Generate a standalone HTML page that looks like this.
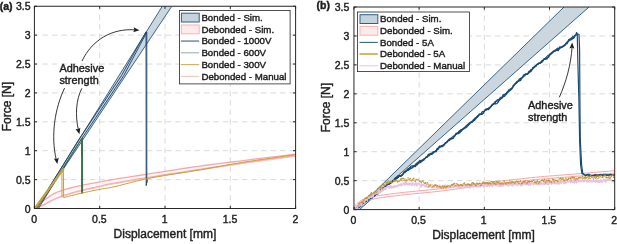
<!DOCTYPE html>
<html><head><meta charset="utf-8"><style>
html,body{margin:0;padding:0;background:#fff;overflow:hidden;}
svg{display:block;will-change:transform;}
text{font-family:"Liberation Sans",sans-serif;stroke:#1a1a1a;stroke-width:0.4px;}
</style></head><body>
<svg width="617" height="244" viewBox="0 0 617 244">
<rect x="0" y="0" width="617" height="244" fill="#fff"/>
<path d="M99.7,208.5 V6.25 M165,208.5 V6.25 M230.3,208.5 V6.25 M34.4,179.61 H295.6 M34.4,150.71 H295.6 M34.4,121.82 H295.6 M34.4,92.93 H295.6 M34.4,64.04 H295.6 M34.4,35.14 H295.6" stroke="#dadada" stroke-width="1" stroke-dasharray="5.5,4" stroke-dashoffset="1.5" fill="none"/>
<defs><clipPath id="ca"><rect x="34.4" y="6.25" width="261.2" height="202.25"/></clipPath><clipPath id="cb"><rect x="353.6" y="7.0" width="261.1" height="202.6"/></clipPath></defs>
<g clip-path="url(#ca)">
<path d="M36,208.5 L162.3,6.25 L171.8,6.25 L37,208.5 Z" fill="#cbd6df"/>
<path d="M36,208.5 L162.3,6.25 M37,208.5 L171.8,6.25" fill="none" stroke="#24587f" stroke-width="0.9"/>
<path d="M34.4,208.5 L34.68,208.25 L35.03,207.93 L35.44,207.56 L35.91,207.13 L36.44,206.66 L37.02,206.15 L37.65,205.6 L38.32,205.03 L39.03,204.42 L39.79,203.77 L40.59,203.07 L41.44,202.33 L42.36,201.57 L43.33,200.79 L44.38,199.99 L45.5,199.2 L46.68,198.37 L47.91,197.5 L49.2,196.6 L50.56,195.68 L52,194.78 L53.52,193.89 L55.14,193.05 L56.86,192.26 L58.76,191.52 L60.84,190.81 L63.05,190.12 L65.34,189.46 L67.63,188.84 L69.87,188.25 L72.01,187.69 L73.97,187.18 L75.76,186.71 L77.43,186.3 L79.01,185.93 L80.53,185.6 L82.03,185.28 L83.52,184.97 L85.05,184.66 L86.64,184.35 L88.31,184.02 L90.03,183.7 L91.78,183.38 L93.54,183.07 L95.27,182.77 L96.96,182.48 L98.57,182.19 L100.09,181.92 L101.28,181.69 L102.07,181.51 L102.67,181.37 L103.28,181.23 L104.11,181.05 L105.37,180.81 L107.27,180.47 L110.02,180.01 L113.68,179.42 L118.1,178.71 L123.11,177.92 L128.58,177.06 L134.34,176.16 L140.26,175.24 L146.17,174.32 L151.94,173.42 L157.71,172.53 L163.69,171.59 L169.82,170.63 L176.03,169.66 L182.24,168.7 L188.4,167.76 L194.43,166.87 L200.26,166.03 L205.79,165.26 L211.04,164.56 L216.12,163.91 L221.16,163.27 L226.28,162.64 L231.61,161.99 L237.26,161.29 L243.36,160.54 L250.36,159.67 L258.33,158.68 L266.83,157.64 L275.44,156.58 L283.71,155.57 L291.2,154.65 L297.49,153.88 L302.13,153.31 L302.13,154.76 L297.49,155.39 L291.2,156.25 L283.71,157.27 L275.44,158.4 L266.83,159.58 L258.33,160.75 L250.36,161.86 L243.36,162.85 L237.26,163.73 L231.61,164.56 L226.28,165.35 L221.16,166.12 L216.12,166.89 L211.04,167.67 L205.79,168.47 L200.26,169.32 L194.43,170.21 L188.4,171.14 L182.24,172.08 L176.03,173.04 L169.82,174 L163.69,174.96 L157.71,175.91 L151.94,176.83 L146.17,177.77 L140.26,178.75 L134.34,179.74 L128.58,180.71 L123.11,181.64 L118.1,182.51 L113.68,183.28 L110.02,183.94 L107.27,184.46 L105.37,184.84 L104.11,185.13 L103.28,185.36 L102.67,185.55 L102.07,185.75 L101.28,185.97 L100.09,186.25 L98.57,186.58 L96.96,186.93 L95.27,187.28 L93.54,187.64 L91.78,188.01 L90.03,188.39 L88.31,188.76 L86.64,189.14 L85.05,189.51 L83.52,189.86 L82.03,190.2 L80.53,190.56 L79.01,190.93 L77.43,191.34 L75.76,191.8 L73.97,192.32 L72.01,192.91 L69.87,193.56 L67.63,194.25 L65.34,194.99 L63.05,195.74 L60.84,196.5 L58.76,197.25 L56.86,197.98 L55.14,198.72 L53.52,199.49 L52,200.27 L50.56,201.05 L49.2,201.81 L47.91,202.54 L46.68,203.21 L45.5,203.82 L44.38,204.36 L43.33,204.85 L42.36,205.3 L41.44,205.71 L40.59,206.09 L39.79,206.43 L39.03,206.75 L38.32,207.06 L37.65,207.33 L37.02,207.58 L36.44,207.79 L35.91,207.98 L35.44,208.14 L35.03,208.28 L34.68,208.4 L34.4,208.5Z" fill="#fff7f7"/>
<path d="M34.4,208.5 L34.68,208.25 L35.03,207.93 L35.44,207.56 L35.91,207.13 L36.44,206.66 L37.02,206.15 L37.65,205.6 L38.32,205.03 L39.03,204.42 L39.79,203.77 L40.59,203.07 L41.44,202.33 L42.36,201.57 L43.33,200.79 L44.38,199.99 L45.5,199.2 L46.68,198.37 L47.91,197.5 L49.2,196.6 L50.56,195.68 L52,194.78 L53.52,193.89 L55.14,193.05 L56.86,192.26 L58.76,191.52 L60.84,190.81 L63.05,190.12 L65.34,189.46 L67.63,188.84 L69.87,188.25 L72.01,187.69 L73.97,187.18 L75.76,186.71 L77.43,186.3 L79.01,185.93 L80.53,185.6 L82.03,185.28 L83.52,184.97 L85.05,184.66 L86.64,184.35 L88.31,184.02 L90.03,183.7 L91.78,183.38 L93.54,183.07 L95.27,182.77 L96.96,182.48 L98.57,182.19 L100.09,181.92 L101.28,181.69 L102.07,181.51 L102.67,181.37 L103.28,181.23 L104.11,181.05 L105.37,180.81 L107.27,180.47 L110.02,180.01 L113.68,179.42 L118.1,178.71 L123.11,177.92 L128.58,177.06 L134.34,176.16 L140.26,175.24 L146.17,174.32 L151.94,173.42 L157.71,172.53 L163.69,171.59 L169.82,170.63 L176.03,169.66 L182.24,168.7 L188.4,167.76 L194.43,166.87 L200.26,166.03 L205.79,165.26 L211.04,164.56 L216.12,163.91 L221.16,163.27 L226.28,162.64 L231.61,161.99 L237.26,161.29 L243.36,160.54 L250.36,159.67 L258.33,158.68 L266.83,157.64 L275.44,156.58 L283.71,155.57 L291.2,154.65 L297.49,153.88 L302.13,153.31 M34.4,208.5 L34.68,208.4 L35.03,208.28 L35.44,208.14 L35.91,207.98 L36.44,207.79 L37.02,207.58 L37.65,207.33 L38.32,207.06 L39.03,206.75 L39.79,206.43 L40.59,206.09 L41.44,205.71 L42.36,205.3 L43.33,204.85 L44.38,204.36 L45.5,203.82 L46.68,203.21 L47.91,202.54 L49.2,201.81 L50.56,201.05 L52,200.27 L53.52,199.49 L55.14,198.72 L56.86,197.98 L58.76,197.25 L60.84,196.5 L63.05,195.74 L65.34,194.99 L67.63,194.25 L69.87,193.56 L72.01,192.91 L73.97,192.32 L75.76,191.8 L77.43,191.34 L79.01,190.93 L80.53,190.56 L82.03,190.2 L83.52,189.86 L85.05,189.51 L86.64,189.14 L88.31,188.76 L90.03,188.39 L91.78,188.01 L93.54,187.64 L95.27,187.28 L96.96,186.93 L98.57,186.58 L100.09,186.25 L101.28,185.97 L102.07,185.75 L102.67,185.55 L103.28,185.36 L104.11,185.13 L105.37,184.84 L107.27,184.46 L110.02,183.94 L113.68,183.28 L118.1,182.51 L123.11,181.64 L128.58,180.71 L134.34,179.74 L140.26,178.75 L146.17,177.77 L151.94,176.83 L157.71,175.91 L163.69,174.96 L169.82,174 L176.03,173.04 L182.24,172.08 L188.4,171.14 L194.43,170.21 L200.26,169.32 L205.79,168.47 L211.04,167.67 L216.12,166.89 L221.16,166.12 L226.28,165.35 L231.61,164.56 L237.26,163.73 L243.36,162.85 L250.36,161.86 L258.33,160.75 L266.83,159.58 L275.44,158.4 L283.71,157.27 L291.2,156.25 L297.49,155.39 L302.13,154.76" fill="none" stroke="#f5a8a8" stroke-width="1.3"/>
<path d="M38.32,207.66 L39.03,207.35 L39.79,207.03 L40.59,206.69 L41.44,206.31 L42.36,205.9 L43.33,205.45 L44.38,204.96 L45.5,204.42 L46.68,203.81 L47.91,203.14 L49.2,202.41 L50.56,201.65 L52,200.87 L53.52,200.09 L55.14,199.32 L56.86,198.58 L58.76,197.85 L60.84,197.1 L63.05,196.34 L65.34,195.59 L67.63,194.85 L69.87,194.16 L72.01,193.51 L73.97,192.92 L75.76,192.4 L77.43,191.94 L79.01,191.53 L80.53,191.16 L82.03,190.8 L83.52,190.46 L85.05,190.11 L86.64,189.74 L88.31,189.36 L90.03,188.99 L91.78,188.61 L93.54,188.24 L95.27,187.88 L96.96,187.53 L98.57,187.18 L100.09,186.85 L101.28,186.57 L102.07,186.35 L102.67,186.15 L103.28,185.96 L104.11,185.73 L105.37,185.44 L107.27,185.06 L110.02,184.54 L113.68,183.88 L118.1,183.11 L123.11,182.24 L128.58,181.31 L134.34,180.34 L140.26,179.35 L146.17,178.37 L151.94,177.43 L157.71,176.51 L163.69,175.56 L169.82,174.6 L176.03,173.64 L182.24,172.68 L188.4,171.74 L194.43,170.81 L200.26,169.92 L205.79,169.07 L211.04,168.27 L216.12,167.49 L221.16,166.72 L226.28,165.95 L231.61,165.16 L237.26,164.33 L243.36,163.45 L250.36,162.46 L258.33,161.35 L266.83,160.18 L275.44,159 L283.71,157.87 L291.2,156.85 L297.49,155.99 L302.13,155.36" fill="none" stroke="#f7bcbc" stroke-width="1"/>
<path d="M36.2,208.5 L78.5,140 L121.5,75.5 L146,31.8 L146.2,185.6 L147.4,179.5" fill="none" stroke="#18426a" stroke-width="0.9" stroke-linejoin="round"/>
<path d="M38.4,208.5 L80.8,140 L123.8,75.5 L146.8,32.2 L146.8,183" fill="none" stroke="#18426a" stroke-width="0.9" stroke-linejoin="round"/>
<path d="M37,208.5 L82,138" fill="none" stroke="#3f7049" stroke-width="1" stroke-linejoin="round"/>
<path d="M82.0,138.0 L82.1,193.4" fill="none" stroke="#3f7049" stroke-width="2"/>
<path d="M34.7,208.5 L63.4,169.2" fill="none" stroke="#c9a03c" stroke-width="2.2" stroke-linecap="round"/>
<path d="M63.4,169.2 L63.6,197.6 L65.38,197.09 L68.27,196.37 L71.69,195.53 L75.36,194.64 L78.99,193.77 L82.3,193 L85.36,192.32 L88.4,191.66 L91.4,191.03 L94.35,190.43 L97.22,189.85 L100,189.3 L102.42,188.86 L104.46,188.54 L106.42,188.25 L108.62,187.89 L111.37,187.37 L115,186.6 L119.53,185.51 L124.7,184.17 L130.44,182.67 L136.63,181.1 L143.18,179.55 L150,178.1 L157.43,176.72 L165.63,175.34 L174.19,173.97 L182.7,172.64 L190.78,171.38 L198,170.2 L204.4,169.11 L210.3,168.08 L215.75,167.12 L220.81,166.22 L225.55,165.38 L230,164.6 L233.73,163.94 L236.59,163.42 L239.12,162.96 L241.85,162.49 L245.3,161.93 L250,161.2 L256.69,160.21 L265.11,158.99 L274.25,157.69 L283.11,156.43 L290.69,155.36 L296,154.6" fill="none" stroke="#c9a03c" stroke-width="1" stroke-linejoin="round"/>
<path d="M61.9,170.2 L62.0,197.2" fill="none" stroke="#c9a03c" stroke-width="1"/>
</g>
<path d="M34.4,208.5 v-2.6 M34.4,6.25 v2.6 M99.7,208.5 v-2.6 M99.7,6.25 v2.6 M165,208.5 v-2.6 M165,6.25 v2.6 M230.3,208.5 v-2.6 M230.3,6.25 v2.6 M295.6,208.5 v-2.6 M295.6,6.25 v2.6 M34.4,208.5 h2.6 M295.6,208.5 h-2.6 M34.4,179.61 h2.6 M295.6,179.61 h-2.6 M34.4,150.71 h2.6 M295.6,150.71 h-2.6 M34.4,121.82 h2.6 M295.6,121.82 h-2.6 M34.4,92.93 h2.6 M295.6,92.93 h-2.6 M34.4,64.04 h2.6 M295.6,64.04 h-2.6 M34.4,35.14 h2.6 M295.6,35.14 h-2.6 M34.4,6.25 h2.6 M295.6,6.25 h-2.6" stroke="#262626" stroke-width="1" fill="none"/>
<rect x="34.4" y="6.25" width="261.2" height="202.25" fill="none" stroke="#262626" stroke-width="1"/>
<text x="34.1" y="223.2" text-anchor="middle" font-size="10.5" fill="#262626">0</text>
<text x="99.4" y="223.2" text-anchor="middle" font-size="10.5" fill="#262626">0.5</text>
<text x="164.7" y="223.2" text-anchor="middle" font-size="10.5" fill="#262626">1</text>
<text x="230" y="223.2" text-anchor="middle" font-size="10.5" fill="#262626">1.5</text>
<text x="295.3" y="223.2" text-anchor="middle" font-size="10.5" fill="#262626">2</text>
<text x="30.5" y="212.7" text-anchor="end" font-size="10.5" fill="#262626">0</text>
<text x="30.5" y="183.81" text-anchor="end" font-size="10.5" fill="#262626">0.5</text>
<text x="30.5" y="154.91" text-anchor="end" font-size="10.5" fill="#262626">1</text>
<text x="30.5" y="126.02" text-anchor="end" font-size="10.5" fill="#262626">1.5</text>
<text x="30.5" y="97.13" text-anchor="end" font-size="10.5" fill="#262626">2</text>
<text x="30.5" y="68.24" text-anchor="end" font-size="10.5" fill="#262626">2.5</text>
<text x="30.5" y="39.34" text-anchor="end" font-size="10.5" fill="#262626">3</text>
<text x="30.5" y="10.45" text-anchor="end" font-size="10.5" fill="#262626">3.5</text>
<text x="164.9" y="237.8" text-anchor="middle" font-size="12" fill="#262626">Displacement [mm]</text>
<text transform="translate(10.9,106.6) rotate(-90)" text-anchor="middle" font-size="12" fill="#262626">Force [N]</text>
<text x="59.4" y="71.7" font-size="10.9" fill="#1f1f1f">Adhesive</text>
<text x="59.4" y="84.1" font-size="10.9" fill="#1f1f1f">strength</text>
<path d="M82,61 C92,40 112,28 135.5,29.9" fill="none" stroke="#1f1f1f" stroke-width="0.9"/>
<path d="M139.4,30.3 L133.21,32.28 L134.42,29.87 L133.64,27.29Z" fill="#1f1f1f"/>
<path d="M64.6,88 C55,108 50.5,135 56.3,160" fill="none" stroke="#1f1f1f" stroke-width="0.9"/>
<path d="M57.3,164 L53.85,158.49 L56.48,159.07 L58.78,157.67Z" fill="#1f1f1f"/>
<path d="M81.8,88.3 C76,100 75,115 78.5,130.5" fill="none" stroke="#1f1f1f" stroke-width="0.9"/>
<path d="M79.4,134.2 L75.48,129.02 L78.15,129.36 L80.32,127.77Z" fill="#1f1f1f"/>
<rect x="179.5" y="10.5" width="110.6" height="73.4" fill="#fff" stroke="#262626" stroke-width="0.8"/>
<rect x="181.4" y="13.2" width="17.8" height="8.8" fill="#c6d2dc" stroke="#2f6088" stroke-width="1"/>
<text x="201.4" y="20.9" font-size="9.7" fill="#1f1f1f">Bonded - Sim.</text>
<rect x="181.4" y="24.98" width="17.8" height="8.8" fill="#fdeaea" stroke="#f6b4b4" stroke-width="1"/>
<text x="201.4" y="32.68" font-size="9.7" fill="#1f1f1f">Debonded - Sim.</text>
<path d="M180.9,41.06 H199.2" stroke="#24557d" stroke-width="1"/>
<text x="201.4" y="44.46" font-size="9.7" fill="#1f1f1f">Bonded - 1000V</text>
<path d="M180.9,52.84 H199.2" stroke="#8fb195" stroke-width="1"/>
<text x="201.4" y="56.24" font-size="9.7" fill="#1f1f1f">Bonded - 600V</text>
<path d="M180.9,64.62 H199.2" stroke="#d6a650" stroke-width="1"/>
<text x="201.4" y="68.02" font-size="9.7" fill="#1f1f1f">Bonded - 300V</text>
<path d="M180.9,76.4 H199.2" stroke="#f4c0c0" stroke-width="1"/>
<text x="201.4" y="79.8" font-size="9.7" fill="#1f1f1f">Debonded - Manual</text>
<text x="-0.3" y="10.4" font-size="10.5" font-weight="bold" fill="#1f1f1f">(a)</text>
<path d="M419.14,209.6 V7 M484.33,209.6 V7 M549.51,209.6 V7 M353.95,180.66 H614.7 M353.95,151.71 H614.7 M353.95,122.77 H614.7 M353.95,93.83 H614.7 M353.95,64.89 H614.7 M353.95,35.94 H614.7" stroke="#dadada" stroke-width="1" stroke-dasharray="5.5,4" stroke-dashoffset="1.5" fill="none"/>
<g clip-path="url(#cb)">
<path d="M356.5,209.6 L564.0,7.0 L589.0,7.0 L359.5,209.6 Z" fill="#cbd6df"/>
<path d="M356.5,209.6 L564.0,7.0 M359.5,209.6 L589.0,7.0" fill="none" stroke="#24587f" stroke-width="0.9"/>
<path d="M353.95,209.6 L354.13,209.04 L354.34,208.26 L354.6,207.33 L354.95,206.34 L355.41,205.37 L356,204.5 L356.71,203.7 L357.53,202.91 L358.45,202.14 L359.49,201.4 L360.67,200.68 L362,200 L363.35,199.37 L364.67,198.8 L366.13,198.26 L367.89,197.72 L370.09,197.18 L372.9,196.6 L376.33,195.99 L380.26,195.37 L384.63,194.74 L389.41,194.1 L394.55,193.46 L400,192.8 L405.87,192.15 L412.23,191.52 L418.94,190.88 L425.89,190.21 L432.95,189.49 L440,188.7 L447.23,187.79 L454.78,186.78 L462.44,185.72 L470,184.66 L477.26,183.67 L484,182.8 L490.25,182.05 L496.19,181.39 L501.81,180.78 L507.15,180.23 L512.21,179.7 L517,179.2 L521.22,178.74 L524.78,178.34 L528.06,177.97 L531.44,177.61 L535.3,177.23 L540,176.8 L545.74,176.31 L552.26,175.79 L559.25,175.24 L566.41,174.68 L573.43,174.13 L580,173.6 L586.53,173.05 L593.33,172.47 L600,171.9 L606.11,171.37 L611.25,170.92 L615,170.6 L615.6,173 L611.85,173.32 L606.71,173.77 L600.6,174.3 L593.93,174.87 L587.13,175.45 L580.6,176 L574.03,176.53 L567.01,177.08 L559.85,177.64 L552.86,178.19 L546.34,178.71 L540.6,179.2 L535.9,179.63 L532.04,180.01 L528.66,180.38 L525.38,180.74 L521.82,181.14 L517.6,181.6 L512.81,182.1 L507.75,182.63 L502.41,183.18 L496.79,183.79 L490.85,184.45 L484.6,185.2 L477.86,186.07 L470.6,187.06 L463.04,188.12 L455.38,189.18 L447.83,190.19 L440.6,191.1 L433.55,191.89 L426.49,192.61 L419.54,193.28 L412.83,193.92 L406.47,194.55 L400.6,195.2 L395.15,195.86 L390.01,196.5 L385.23,197.14 L380.86,197.77 L376.93,198.39 L373.5,199 L370.69,199.58 L368.49,200.12 L366.73,200.66 L365.27,201.2 L363.95,201.77 L362.6,202.4 L361.27,203.08 L360.09,203.8 L359.05,204.54 L358.13,205.31 L357.31,206.1 L356.6,206.9 L356.01,207.77 L355.55,208.74 L355.2,209.73 L354.94,210.66 L354.73,211.44 L353.95,209.6Z" fill="#fff7f7"/>
<path d="M353.95,209.6 L354.13,209.04 L354.34,208.26 L354.6,207.33 L354.95,206.34 L355.41,205.37 L356,204.5 L356.71,203.7 L357.53,202.91 L358.45,202.14 L359.49,201.4 L360.67,200.68 L362,200 L363.35,199.37 L364.67,198.8 L366.13,198.26 L367.89,197.72 L370.09,197.18 L372.9,196.6 L376.33,195.99 L380.26,195.37 L384.63,194.74 L389.41,194.1 L394.55,193.46 L400,192.8 L405.87,192.15 L412.23,191.52 L418.94,190.88 L425.89,190.21 L432.95,189.49 L440,188.7 L447.23,187.79 L454.78,186.78 L462.44,185.72 L470,184.66 L477.26,183.67 L484,182.8 L490.25,182.05 L496.19,181.39 L501.81,180.78 L507.15,180.23 L512.21,179.7 L517,179.2 L521.22,178.74 L524.78,178.34 L528.06,177.97 L531.44,177.61 L535.3,177.23 L540,176.8 L545.74,176.31 L552.26,175.79 L559.25,175.24 L566.41,174.68 L573.43,174.13 L580,173.6 L586.53,173.05 L593.33,172.47 L600,171.9 L606.11,171.37 L611.25,170.92 L615,170.6 M353.95,209.6 L354.73,211.44 L354.94,210.66 L355.2,209.73 L355.55,208.74 L356.01,207.77 L356.6,206.9 L357.31,206.1 L358.13,205.31 L359.05,204.54 L360.09,203.8 L361.27,203.08 L362.6,202.4 L363.95,201.77 L365.27,201.2 L366.73,200.66 L368.49,200.12 L370.69,199.58 L373.5,199 L376.93,198.39 L380.86,197.77 L385.23,197.14 L390.01,196.5 L395.15,195.86 L400.6,195.2 L406.47,194.55 L412.83,193.92 L419.54,193.28 L426.49,192.61 L433.55,191.89 L440.6,191.1 L447.83,190.19 L455.38,189.18 L463.04,188.12 L470.6,187.06 L477.86,186.07 L484.6,185.2 L490.85,184.45 L496.79,183.79 L502.41,183.18 L507.75,182.63 L512.81,182.1 L517.6,181.6 L521.82,181.14 L525.38,180.74 L528.66,180.38 L532.04,180.01 L535.9,179.63 L540.6,179.2 L546.34,178.71 L552.86,178.19 L559.85,177.64 L567.01,177.08 L574.03,176.53 L580.6,176 L587.13,175.45 L593.93,174.87 L600.6,174.3 L606.71,173.77 L611.85,173.32 L615.6,173" fill="none" stroke="#f5a8a8" stroke-width="1"/>
<path d="M353.99,208.87 L354.52,208.06 L354.85,208.12 L355.67,208.03 L356.06,207.9 L356.37,207.45 L357.17,208.25 L357.5,207.8 L358.12,207.73 L358.74,206.67 L359.26,207.06 L359.61,206.57 L360.08,205.48 L360.51,205.8 L361,204.29 L361.78,204.87 L362.18,204.51 L362.53,203.25 L363.16,203.03 L363.64,202.11 L364.23,202.88 L365,202.28 L365.3,201.13 L366.01,201.02 L366.42,199.82 L366.73,200.47 L367.47,200.09 L367.9,199.09 L368.4,199.45 L368.8,198.89 L369.31,199.17 L369.72,198.99 L370.62,197.94 L370.99,198.57 L371.61,198.12 L371.9,197.51 L372.69,197.85 L372.88,196.35 L373.39,195.89 L374.02,195.7 L374.68,196.07 L374.88,195.51 L375.46,194.98 L375.91,194.01 L376.39,193.78 L377.09,193.52 L377.32,193.3 L378.15,193.01 L378.61,191.57 L378.96,191.29 L379.57,191.07 L380.04,190.81 L380.52,190.53 L380.75,190.27 L381.35,190.61 L381.83,189.61 L382.42,189.74 L382.75,188.71 L383.43,188.37 L384.13,187.29 L384.54,187.16 L384.99,186.09 L385.61,186.9 L385.94,185.46 L386.71,184.65 L386.85,184.1 L387.67,184.59 L388.05,183.99 L388.4,183.7 L389.09,183.28 L389.59,182.91 L390.05,182.22 L390.65,182.25 L391.28,182.73 L391.81,181.84 L392.13,181.41 L392.75,181.46 L393.45,180.42 L393.78,180.7 L394.39,180.94 L394.93,180.21 L395.43,179.8 L395.99,179.26 L396.43,177.96 L397.02,177.5 L397.39,177.49 L398.03,177.19 L398.14,175.85 L398.75,175.74 L399.18,175.9 L399.65,175.57 L400.48,176.2 L400.79,175.25 L401.5,175.86 L401.71,174.93 L402.39,174.87 L402.75,174.6 L403.29,172.93 L404.01,172.11 L404.46,171.59 L404.94,171.25 L405.37,171.8 L405.93,170.72 L406.51,170.12 L406.85,169.89 L407.41,169.24 L408.21,168.65 L408.67,169.53 L409.17,167.83 L409.64,167.39 L410.22,167.83 L410.62,166.38 L411.29,166.03 L411.74,166.11 L412.49,165.7 L412.7,166.22 L413.49,165.95 L413.69,165.66 L414.34,166.31 L414.78,166.66 L415.54,166.61 L416.06,164.95 L416.45,164.6 L417.08,165.05 L417.53,163.78 L417.76,164.19 L418.51,163.47 L418.99,163.34 L419.46,162.26 L420,161.99 L420.64,162.53 L420.94,161.08 L421.62,161.64 L421.99,160.75 L422.43,160.05 L423.11,160.52 L423.67,159.31 L423.94,159.9 L424.62,158.68 L425.2,158.65 L425.66,157.33 L426.31,157.06 L426.53,156.67 L427.25,156.37 L427.63,155.78 L428.29,154.36 L428.97,154.7 L429.53,154.11 L429.79,153.93 L430.6,153.33 L431.13,153.71 L431.46,153.45 L432.22,152.99 L432.4,152.03 L433.2,152 L433.81,151.7 L434.12,151.78 L434.83,151.4 L435.25,151.25 L435.95,150.6 L436.53,150.39 L436.9,148.84 L437.43,148.46 L437.99,148.77 L438.43,147.23 L438.81,147.07 L439.55,146.03 L440.09,145.9 L440.36,146.71 L441.01,146.66 L441.5,145.66 L441.88,146.17 L442.53,146.64 L443.06,146.29 L443.35,145.59 L443.89,145.13 L444.33,144.55 L444.89,143.15 L445.51,143.25 L445.98,142.88 L446.43,142.79 L446.76,141.56 L447.09,141.49 L447.8,140.88 L448.44,139.86 L448.61,140.14 L449.32,139.36 L449.52,138.8 L450.32,138.73 L450.67,138.46 L451.24,138.72 L451.76,139.06 L452.28,138.26 L452.58,138.58 L453.29,138.35 L453.55,137.64 L454.32,135.84 L454.59,135.83 L455,135.37 L455.52,134.52 L456,133.4 L456.44,133.51 L457.12,133.03 L457.58,133.22 L458.04,133.33 L458.33,133.02 L458.75,133.64 L459.36,132.5 L460.02,132.76 L460.15,132.27 L460.85,131.23 L461.31,131.29 L461.76,130.23 L462.36,129.34 L462.74,129.47 L463.35,128.68 L463.8,127.99 L464.4,127.36 L464.84,127.61 L465.17,127.42 L465.81,126.33 L466.27,126 L466.89,125.75 L467.19,125.08 L467.57,124.52 L468.1,124.63 L468.87,123.6 L469.06,123.62 L469.55,123.07 L470.3,122.45 L470.76,122.59 L471.01,121.85 L471.7,121.3 L472.03,121.6 L472.77,121.11 L473.19,119.9 L473.54,119.79 L474.27,119.27 L474.71,118.26 L475.09,118.95 L475.69,118.07 L475.94,118.14 L476.39,117.73 L477.16,116.91 L477.55,115.64 L477.96,115.87 L478.58,115.04 L479.12,114.17 L479.41,114 L479.92,114.92 L480.6,114.06 L480.92,114.05 L481.56,114.46 L481.89,114.13 L482.64,113.77 L483.07,113.46 L483.49,112.65 L483.94,111.39 L484.5,110.8 L484.93,110.01 L485.67,109.86 L485.88,108.98 L486.39,109.95 L486.94,109.55 L487.4,109.43 L487.99,109.41 L488.52,108.67 L488.97,108.57 L489.74,108.16 L490.15,106.98 L490.86,106.97 L491.11,106 L491.91,105.32 L492.55,105.05 L492.82,104.82 L493.42,103.75 L494.24,103.38 L494.57,104.02 L495.03,103.51 L495.76,103.87 L496.25,103.82 L496.81,103.55 L497.31,103.25 L497.69,102.4 L498.2,102.32 L498.77,101.11 L499.28,100.49 L499.58,100.19 L500.05,99.23 L500.49,99.4 L501.22,98.35 L501.63,97.96 L502.04,97.76 L502.48,97.91 L502.96,97 L503.58,96.15 L503.93,96.51 L504.62,96.44 L504.88,95.48 L505.4,95.13 L506.04,93.91 L506.27,94.59 L506.7,93.67 L507.32,92.66 L507.73,91.74 L507.98,91.46 L508.41,91.05 L508.71,91.43 L509.2,90.7 L509.77,90.72 L510.32,90.04 L510.47,89.88 L510.87,89.74 L511.38,88.39 L511.76,88.12 L512.41,88.16 L512.81,87.26 L513.03,85.91 L513.48,85.32 L514.12,85.46 L514.23,84.9 L515.04,83.76 L515.42,83.86 L515.7,83.32 L516.49,83.41 L516.94,81.98 L517.34,82.16 L517.87,81.3 L518.19,80.86 L518.75,81.41 L518.9,80.58 L519.4,80.79 L520.05,79.69 L520.7,80.55 L521.02,79.5 L521.51,78.88 L522.05,77.87 L522.71,76.69 L523.03,76.73 L523.5,75.09 L524.27,74.69 L524.57,74.56 L525.01,74.44 L525.61,74.07 L526.09,73.97 L526.39,74.11 L526.94,74.1 L527.44,74.42 L528.06,73.51 L528.59,73.39 L528.88,72.88 L529.53,72.35 L530,72.07 L530.55,71.16 L530.92,71.73 L531.34,71.1 L531.64,70.23 L532.19,69.6 L532.74,68.66 L533.15,67.7 L533.88,67.78 L534.27,66.64 L534.62,67.42 L535.08,66.39 L535.77,65.92 L536.21,66.14 L536.79,64.7 L537.15,64.55 L537.75,64.52 L538.08,64.18 L538.65,62.88 L539.09,63.03 L539.56,63.07 L540.38,63.06 L540.73,62.56 L541.18,61.76 L541.84,60.6 L542.13,60.6 L542.61,60.26 L542.99,60.2 L543.85,59.18 L544.03,59.01 L544.77,58.7 L545.25,58.56 L545.66,59.3 L546.17,58.32 L546.77,59.2 L547.06,58.86 L547.69,57.32 L548.19,57.53 L548.8,55.66 L549.27,55.09 L550.01,55.04 L550.52,54.15 L551.3,53.6 L551.75,52.87 L552.26,52.25 L552.67,51.85 L553.24,51.31 L554.02,51 L554.63,50.46 L554.9,50.42 L555.58,50.07 L556.37,49.39 L556.6,48.82 L557.23,48.42 L557.6,48.17 L558.35,48.39 L558.88,48.26 L559.38,47.51 L559.81,47 L560.36,47.9 L560.73,47.41 L561.32,47.56 L561.97,47.13 L562.67,46.83 L562.96,45.96 L563.69,46.52 L564.04,45.4 L564.93,45.54 L565.31,44.69 L566.15,43.67 L566.41,43.87 L567.19,43.58 L567.53,42.67 L568.24,41.37 L568.47,40.71 L569.21,40.09 L569.67,40.75 L570.08,39.89 L570.76,39.92 L571.31,38.81 L572,38.74 L572.23,38.38 L572.83,38.21 L573.55,37.15 L574.22,36.08 L574.91,35.45 L575.45,35.7 L575.85,35.1 L576.41,34.95 L576.65,34.96 L576.74,33.63 L577.03,33.8 L579,34.5 L579.6,50 L579.9,100 L580.3,140 L581.6,165 L582.8,173.6 L585.5,175.4 L585.36,176.04 L586.59,174.94 L587.12,174.77 L588.1,175.36 L588.94,175.89 L589.84,176.16 L590.95,175.74 L591.82,175.71 L592.33,175.72 L593.41,175.95 L594.12,175.23 L595.13,175.72 L596.07,176 L596.84,176.13 L597.72,175.79 L598.72,175.05 L599.5,174.86 L600.31,175.68 L601.24,174.82 L601.84,175.24 L602.84,174.52 L603.85,174.23 L604.55,174.78 L605.47,174.83 L606.18,175.55 L607.16,175.03 L608.03,174.73 L608.83,174.97 L609.73,175.22 L610.78,174.48 L611.42,174.58 L612.51,174.68 L613.23,175.47 L613.95,174.96 L614.87,175.47" fill="none" stroke="#1b4a72" stroke-width="1.2" stroke-linejoin="round"/>
<path d="M354.07,210.88 L354.66,210.69 L355.16,209.96 L355.7,209.91 L355.96,209.87 L356.48,208.43 L356.87,208.46 L357.43,208.77 L358.23,207.4 L358.4,207.46 L358.93,207.09 L359.7,206.3 L360.05,206.83 L360.58,205.67 L361.29,205.92 L361.82,205.14 L362.15,204.39 L362.85,203.49 L363.14,202.22 L363.73,202.23 L364.32,201.45 L364.93,200.54 L365.37,200.68 L365.85,201.28 L366.23,201.37 L366.67,200.71 L367.37,200.04 L367.89,200.04 L368.35,199.99 L368.68,199.09 L369.51,198.3 L370.07,197.92 L370.51,197.44 L370.94,197.38 L371.31,197.41 L371.98,197.05 L372.53,196.55 L373.04,195.88 L373.71,195.27 L374.19,196.04 L374.54,195.57 L375.1,194.92 L375.44,194.01 L375.96,193.42 L376.7,192.9 L376.97,192.46 L377.63,192.06 L378.02,191.37 L378.4,190.79 L378.87,190.69 L379.61,190.7 L379.8,190.31 L380.29,190.12 L380.91,190.18 L381.33,189.82 L381.81,189.71 L382.46,188.15 L383.04,188.23 L383.37,187.79 L384.08,187.41 L384.55,187.48 L385.04,186.92 L385.31,187.32 L386.06,185.77 L386.7,186.29 L386.9,184.54 L387.59,184.25 L388.16,184.3 L388.67,184.09 L389.22,184.14 L389.67,183.54 L390.09,182.63 L390.51,183.34 L391.08,182.39 L391.65,182.23 L392.25,182.05 L392.73,180.75 L393.33,180.65 L393.95,179.43 L394.45,179.81 L395.01,178.17 L395.28,178.68 L395.98,177.28 L396.32,177.87 L396.96,177.27 L397.23,176.74 L397.66,176.25 L398.31,176.6 L398.86,175.79 L399.22,175.54 L399.88,175.69 L400.18,176.18 L400.83,176.27 L401.33,175.54 L401.8,175.13 L402.51,175.19 L402.91,173.9 L403.19,173.93 L403.83,172.75 L404.21,171.78 L404.86,172.68 L405.52,171.94 L406.01,170.99 L406.33,171.12 L406.81,170.77 L407.51,170.38 L407.87,169.36 L408.53,169.11 L409.15,169 L409.68,169.33 L410.22,168.76 L410.61,168.24 L411.46,167.84 L411.73,167.82 L412.35,167.87 L412.76,167.65 L413.17,166.88 L413.9,166.47 L414.24,165.63 L415.07,165.11 L415.25,165.07 L416.1,163.55 L416.55,163.05 L416.76,163.55 L417.52,163.26 L417.99,162.14 L418.38,161.77 L419.19,161.5 L419.68,160.66 L420.15,161.35 L420.41,161.5 L420.99,160.69 L421.44,161.27 L421.97,161.5 L422.41,160.92 L423.21,160.17 L423.63,160.04 L424.16,158.66 L424.72,158.51 L425.16,158.28 L425.82,157.74 L426.32,156.9 L426.64,157.37 L427.28,157.25 L427.65,156.87 L428.41,155.6 L428.68,155.85 L429.55,155.51 L429.87,154.97 L430.56,154.59 L430.98,154.29 L431.68,154.17 L432.18,153.02 L432.64,153.39 L433.24,153.19 L433.87,151.74 L434.26,151.82 L434.7,151.82 L435.56,151.97 L435.76,150.97 L436.39,151.53 L436.93,150.06 L437.48,149.58 L437.79,149.37 L438.68,148.91 L439.1,147.37 L439.54,147.49 L440.13,146.82 L440.34,147.21 L440.91,146.74 L441.48,146.65 L441.92,145.53 L442.44,145.88 L443.08,145.49 L443.51,145.06 L444.03,144.3 L444.58,144.82 L444.71,144.11 L445.49,143.31 L445.7,142.85 L446.44,142.28 L447,142.39 L447.34,142.06 L447.62,140.92 L448.26,140.98 L448.9,140.86 L449.25,140.53 L449.87,139.84 L450.29,139.74 L450.65,139.02 L451.05,138.21 L451.62,138.27 L452.01,138.17 L452.62,138.41 L453.29,137.63 L453.81,136.59 L454.01,136.49 L454.56,136.43 L455.11,135.73 L455.51,134.11 L456.13,134.52 L456.46,134.43 L457.22,133.63 L457.7,133.54 L457.84,132.68 L458.55,132.18 L458.86,131.47 L459.43,131.51 L459.69,130.54 L460.27,130.9 L460.66,129.71 L461.16,129.59 L461.78,130.4 L462.24,129 L462.87,128.94 L463.32,129.19 L463.77,128.88 L464.33,128.77 L464.89,128.56 L465.38,127.38 L465.78,127.69 L466.38,127.21 L466.9,126.88 L467.28,126.15 L467.57,125.45 L468.33,125.6 L468.87,124.49 L469.11,124.71 L469.77,123.3 L470.01,123.8 L470.72,122.24 L471.37,122.43 L471.77,122.27 L472.05,121.44 L472.51,121.17 L473.1,121.08 L473.46,119.95 L474.06,119.37 L474.56,120.41 L475.23,118.99 L475.71,118.67 L475.96,118.78 L476.47,117.6 L476.88,116.93 L477.41,117.3 L477.84,116.15 L478.4,115.87 L478.81,114.95 L479.59,114.06 L479.96,114.07 L480.49,114.08 L480.83,114.01 L481.4,113.46 L481.85,112.1 L482.38,111.69 L482.9,111.4 L483.33,112.06 L484.01,111.23 L484.5,111.34 L484.82,109.92 L485.57,109.49 L486,110.02 L486.64,108.92 L486.97,109.21 L487.54,108.7 L488.11,109.83 L488.53,109.16 L489.19,109.01 L489.73,107.95 L489.99,107.69 L490.84,106.79 L491.18,106.41 L491.85,104.79 L492.48,104.11 L492.82,104.61 L493.31,104.11 L494.01,103.22 L494.69,103.21 L495.01,101.63 L495.64,101.39 L496.12,100.82 L496.5,101.06 L497,100.23 L497.64,99.56 L498.32,100.27 L498.52,99.71 L499.09,99.18 L499.55,98.79 L500.36,97.69 L500.52,97.38 L501.26,97.56 L501.44,97.3 L502.13,96.95 L502.69,95.42 L503.09,94.78 L503.37,95.1 L503.88,94.3 L504.43,94.31 L505.15,94.14 L505.5,93.96 L505.78,93.68 L506.44,93.31 L506.74,92.61 L507.02,92.22 L507.68,92.65 L508.2,91.51 L508.58,91.9 L509.08,91.24 L509.26,91.13 L509.56,90.37 L510.16,90.51 L510.65,89.25 L510.9,88.69 L511.56,89.35 L511.83,88.11 L512.32,87.49 L512.73,87.03 L513.06,86.81 L513.45,85.62 L514,85.87 L514.25,84.48 L514.78,84.01 L515.34,84.25 L515.69,83.65 L516.27,82.98 L516.78,82.56 L517.12,82.1 L517.67,81.9 L518.21,80.91 L518.82,80.11 L518.89,79.55 L519.62,79.02 L520.09,78.53 L520.44,78.79 L520.85,78.04 L521.77,77.98 L522.05,77.77 L522.64,77.16 L523.05,76.13 L523.69,76.22 L524.19,74.93 L524.58,74.79 L525,74.24 L525.69,74.1 L526.02,73.78 L526.64,74.44 L526.87,74.62 L527.72,73.95 L528.12,73.44 L528.29,72.34 L528.85,71.47 L529.48,71.74 L529.85,71.47 L530.27,70.37 L530.7,69.89 L531.47,69.77 L531.9,69.77 L532.35,68.51 L532.95,67.57 L533.21,68.19 L533.81,67.01 L534.35,67.16 L534.79,66.02 L535.27,66.08 L535.83,65.39 L536.36,65.21 L536.56,64.56 L537.05,64.21 L537.61,64.49 L538.11,64.08 L538.81,63.47 L539.21,63.24 L539.63,63.41 L540.26,63.26 L540.54,63.06 L541.19,62.47 L541.66,62.52 L542.24,61.79 L542.68,61 L543.14,60.97 L543.64,59.72 L544.05,59.33 L544.48,59.41 L545.09,59.24 L545.5,58.62 L546.08,58.38 L546.49,58.33 L547.18,57.35 L547.46,57.32 L548.39,56.88 L548.76,56.59 L549.47,55.61 L550.11,53.83 L550.42,54.33 L551.07,54.06 L551.51,53.78 L552.3,52.77 L552.95,52.7 L553.37,51.95 L554.07,51.6 L554.43,51.16 L554.87,51.1 L555.44,51.07 L556.11,50.24 L556.69,50.44 L557.12,50.6 L557.69,49.65 L558.46,50.57 L558.67,49.71 L559.3,48.64 L559.77,48.14 L560.15,47.87 L560.65,46.98 L561.61,47.24 L561.93,47.14 L562.44,46.65 L562.94,46.5 L563.5,46.28 L564.02,45.29 L564.76,45.45 L565.54,44.14 L565.93,43.63 L566.32,42.87 L566.86,42.28 L567.51,42.27 L568.11,41.29 L568.51,40.02 L569.06,39.44 L569.46,39.23 L570.37,38.82 L570.75,39.07 L571.41,38.8 L571.84,39.68 L572.35,38.6 L573.02,37.98 L573.54,38.43 L574.41,37.32 L574.95,35.84 L575.57,34.79 L575.98,34.4 L576.29,33.52 L576.45,32.58 L576.98,32.9 L576.95,33.78 L577.3,35.2 L577.8,60 L578.9,100 L579.6,140 L580.6,165 L581.9,173.4 L585.5,175.2 L585.64,175.5 L586.59,174.84 L587.34,174.62 L588.27,174.39 L589.13,174.38 L590.02,175.18 L590.93,175.05 L591.49,175.76 L592.69,175.34 L593.35,175.49 L594.42,174.93 L595.2,174.41 L595.82,175.28 L596.74,174.86 L597.62,175 L598.7,175.53 L599.55,174.9 L600.09,174.33 L601.23,174.95 L602.16,175.37 L602.73,175.57 L603.85,175.46 L604.54,174.51 L605.26,174.25 L606.33,174.6 L606.98,175.41 L608.19,175.03 L608.87,175.25 L609.77,174.58 L610.64,174.37 L611.41,174.83 L612.3,175.18 L613.36,174.84 L613.99,174.4 L614.97,174.7" fill="none" stroke="#1b4a72" stroke-width="1.2" stroke-linejoin="round"/>
<path d="M353.82,209.43 L354.51,209.09 L354.96,208.58 L355.5,208.69 L356.09,208.6 L356.48,209.23 L356.88,208.7 L357.51,208.45 L358.14,207.74 L358.6,206.89 L358.87,207.22 L359.48,205.93 L360.2,206.22 L360.42,205.73 L361,205.82 L361.57,205.38 L362.23,203.53 L362.68,204.09 L363.32,202.28 L363.71,201.87 L364.13,201.88 L364.88,201.07 L365.33,201.83 L365.98,200.82 L366.16,201.84 L366.77,200.72 L367.47,200.68 L367.95,200.95 L368.29,200.22 L368.8,200.25 L369.31,199.02 L370.06,198.54 L370.41,198.41 L370.76,197.68 L371.57,198.24 L371.93,197.01 L372.33,196.4 L372.97,195.74 L373.47,194.83 L374.21,194.92 L374.48,193.5 L374.85,193.29 L375.38,193.91 L376.03,193.35 L376.67,194.22 L377.09,194.57 L377.43,194.47 L378.19,194.16 L378.31,193.58 L379.17,191.9 L379.61,192.18 L379.77,191.31 L380.55,190.74 L380.76,190.54 L381.25,188.93 L382.09,189.14 L382.27,188.67 L382.96,188.13 L383.59,188.34 L383.9,187.53 L384.3,188.01 L384.89,187.57 L385.5,186.66 L385.87,186.27 L386.35,185.87 L387.07,186.2 L387.43,184.79 L388.18,184.33 L388.47,184.44 L389.08,184.83 L389.46,184.34 L390.14,182.99 L390.57,183.73 L391.07,182.69 L391.54,182.35 L392.32,182.18 L392.69,181.15 L393.4,181.15 L393.76,179.38 L394.47,179.23 L394.81,178.36 L395.14,178.13 L395.86,178.13 L396.48,177.84 L396.92,177.57 L397.29,178.73 L397.74,177.63 L398.15,178.07 L398.82,176.85 L399.34,176.56 L399.97,176.47 L400.13,175.88 L400.62,176.33 L401.15,175.58 L401.86,174.64 L402.39,174.92 L403.02,174.83 L403.55,173.71 L403.87,173.04 L404.24,172.78 L405.1,172.23 L405.56,171.56 L405.89,171.5 L406.65,171.18 L407.09,170.64 L407.61,170.84 L408.22,169.9 L408.45,170.76 L409.07,169.49 L409.78,169.25 L410.33,168.95 L410.55,167.86 L411.42,168.55 L411.69,168.24 L412.47,167.26 L412.95,166.95 L413.17,166.36 L413.8,166.95 L414.29,166.41 L414.95,165.32 L415.38,165.6 L416,164.9 L416.61,164.97 L416.73,164.43 L417.47,163.83 L417.83,162.97 L418.55,161.91 L418.94,161.79 L419.72,161.58 L420.11,161.28 L420.72,160.86 L421.2,159.81 L421.76,160.82 L422.14,159.96 L422.78,159.6 L423.26,159.25 L423.63,159.47 L424.27,158.72 L424.62,158.36 L425.11,157.76 L425.55,157.28 L426.07,157.77 L426.67,157.18 L427.23,156.79 L427.8,155.31 L428.26,154.67 L428.76,154.21 L429.27,153.95 L429.71,154.53 L430.56,153.63 L431.11,153.27 L431.55,154.08 L432.19,154.58 L432.64,154.14 L433.23,152.7 L433.55,152.24 L434.36,152.19 L434.76,151.65 L435.55,151.07 L436.06,150.39 L436.5,150.55 L436.82,150.29 L437.34,148.68 L438.16,148.15 L438.46,148.49 L438.88,147.48 L439.6,146.15 L439.87,147.01 L440.65,146.3 L441.06,145.87 L441.66,145.09 L441.89,145.33 L442.53,146.07 L442.86,144.63 L443.34,145.3 L443.98,143.9 L444.51,143.82 L444.72,143.24 L445.52,143.68 L445.81,143.01 L446.51,141.68 L446.69,141.6 L447.22,141.58 L447.96,140.49 L448.16,140.45 L448.81,139.47 L449.23,139.7 L449.81,138.92 L450.12,138.83 L450.64,138.24 L451.3,138.57 L451.88,137.04 L452.2,137.15 L452.7,136.26 L453.1,136.16 L453.55,135.97 L454.33,135.95 L454.53,135.13 L455.08,135.7 L455.42,134.38 L456.22,134.42 L456.43,134.24 L456.85,133.96 L457.66,132.48 L457.99,133.11 L458.37,131.67 L459.08,130.77 L459.21,131.2 L460,130.88 L460.42,130.47 L461,130.19 L461.34,129.83 L461.73,130.24 L462.13,130.12 L462.7,129.76 L463.15,129.12 L463.79,128.16 L464.4,128.35 L464.74,127.72 L465.25,127.6 L465.59,126.19 L466.3,125.75 L466.92,126.37 L467.16,124.79 L467.9,124.03 L468.24,123.52 L468.93,123.44 L469.29,122.84 L469.86,123.2 L470,122.19 L470.61,122.5 L470.98,122.89 L471.47,122.66 L472.25,122.04 L472.56,122.41 L473.24,121.66 L473.46,120.17 L474.06,119.67 L474.7,119.45 L475.12,117.6 L475.39,117.56 L476.24,116.72 L476.75,116.28 L476.86,116.58 L477.36,116.06 L478.22,116.6 L478.63,115.82 L478.95,115.04 L479.5,114.68 L480.05,114.33 L480.5,114.53 L480.85,114.11 L481.48,114.22 L481.95,114.73 L482.41,113.53 L482.95,113.76 L483.69,112.81 L483.8,111.78 L484.68,110.7 L485.11,110.71 L485.52,110.61 L485.91,110.26 L486.42,109.77 L487.08,109.07 L487.48,108.2 L487.94,108.9 L488.52,107.52 L489.09,107.64 L489.76,107.76 L490.3,106.35 L490.71,106.48 L491.22,106.64 L491.98,105.23 L492.48,105.22 L492.89,104.24 L493.49,104.6 L494.13,103.45 L494.53,103.51 L495.03,103.53 L495.62,101.91 L496.17,101.68 L496.76,101.62 L497.34,100.9 L497.77,101.25 L498.14,101.07 L498.84,100.85 L499.26,99.4 L499.86,98.95 L500.28,98.72 L500.61,98.35 L501.16,98.71 L501.71,97.13 L502.18,97.68 L502.45,97.54 L502.91,97.03 L503.67,96.36 L503.93,95.42 L504.4,95.03 L504.84,95.17 L505.42,93.79 L505.79,93.89 L506.16,93.69 L506.9,92.45 L507.06,92.74 L507.58,92.11 L508.12,91.05 L508.5,89.7 L508.76,90.19 L509.27,89.29 L509.93,89.07 L510.18,89.3 L510.74,88.87 L510.96,88.94 L511.32,88.83 L511.98,88.77 L512.22,88.07 L512.71,87 L513.23,86.62 L513.4,85.59 L514.03,84.88 L514.43,84.25 L514.78,83.76 L515.47,83.56 L515.67,83.14 L516.18,81.75 L516.95,81.24 L517.43,81.13 L517.56,81.32 L518.23,80.62 L518.48,80.78 L519.22,79.94 L519.51,80.31 L520.17,79.08 L520.49,78.98 L521.11,79.16 L521.68,77.7 L521.93,77.15 L522.46,76.97 L523.06,77.33 L523.62,77.08 L524.21,75.89 L524.69,75.62 L525.21,76.12 L525.43,75.29 L525.94,74.66 L526.44,74.42 L526.98,74.29 L527.54,73.69 L527.92,73.28 L528.32,72.69 L529.09,71.25 L529.44,70.91 L529.79,71.37 L530.23,70.88 L530.85,69.57 L531.24,69.83 L531.68,69.55 L532.47,69.61 L532.61,67.9 L533.2,68.59 L533.9,67.71 L534.16,67.03 L534.82,67.05 L535.15,66.41 L535.69,66.2 L536.33,65.9 L536.79,64.89 L537.3,63.98 L537.8,63.55 L538.32,64.15 L538.54,64.03 L539.14,63.43 L539.54,63.05 L540.17,62.83 L540.65,61.73 L541.27,62.55 L541.64,61.68 L542.28,60.47 L542.72,60.56 L543.31,60.22 L543.68,59.11 L543.97,58.51 L544.8,59.18 L545.03,58.42 L545.51,57.53 L545.97,56.98 L546.44,57.02 L547.07,55.87 L547.81,55.41 L548.15,55.47 L548.69,55.6 L549.35,54.03 L549.85,53.85 L550.73,53.23 L551.04,52.67 L551.86,53.14 L552.06,52.83 L552.74,51.96 L553.22,50.93 L554.07,51.4 L554.56,50.95 L555.14,49.91 L555.61,50.17 L556.14,50.44 L556.63,50.17 L557.03,49.28 L557.77,50.05 L558.42,49.98 L558.72,49.44 L559.41,49.09 L559.71,48.5 L560.31,47.84 L560.73,47.21 L561.57,47.24 L561.84,47.01 L562.45,46 L563.11,46.28 L563.57,46.34 L564.27,44.79 L564.97,45.27 L565.5,44.05 L566,43 L566.68,43.29 L566.97,41.92 L567.57,41.96 L567.99,41.4 L568.77,39.94 L568.99,39.4 L569.58,39.88 L569.95,38.91 L570.53,38.53 L571.04,37.59 L572.12,37.87 L572.64,36.16 L573.35,36.62 L573.81,36.34" fill="none" stroke="#1b4a72" stroke-width="1.0" stroke-linejoin="round"/>
<path d="M353.92,209.79 L354.61,209.16 L354.76,209.23 L354.98,208.66 L355.66,209.21 L355.77,207.3 L356.19,208.58 L356.97,205.78 L357.54,208.41 L357.74,206.97 L357.85,204.72 L358.47,204.54 L358.66,204.8 L359,205.17 L359.67,206.04 L360.14,205.05 L360.56,204.77 L360.96,203.2 L361.7,205.17 L362.03,203.91 L362.14,202.05 L362.54,201.21 L363.25,201.93 L363.78,201.53 L364.32,202.64 L364.22,200.23 L365.25,200.7 L365.72,200.16 L365.61,200.58 L366.46,199.11 L366.48,199 L367.43,200.06 L367.34,198.12 L367.75,197.23 L368.59,197.3 L368.86,197.88 L369.05,198.5 L369.43,197.93 L369.84,196.93 L370.44,196.08 L371.44,197.43 L371.59,197.32 L372.08,195.4 L373.01,195.84 L373.11,196.59 L373.72,193.91 L374.61,193.8 L374.88,192.63 L375.31,193.93 L375.96,193.65 L376.59,192.84 L377.5,192.61 L377.82,193.51 L378.14,190.9 L379.13,192.71 L379.29,190.38 L380.14,192.47 L380.37,192.21 L381.34,190.8 L381.62,188.9 L381.95,191.38 L382.62,190.27 L383.19,190.38 L383.95,188.44 L384.25,189.55 L384.74,187.73 L385.58,189.51 L386.16,187.46 L386.88,187 L386.87,187.02 L387.66,186.17 L388.03,186.97 L388.8,186.04 L389.2,188.3 L390.1,187.39 L390.47,187.01 L390.68,185.1 L391.16,187.75 L392.14,187.78 L392.3,186.59 L393.15,186.75 L393.66,187.47 L394.13,185.89 L395.14,186.88 L395.78,186.1 L396.46,186.63 L396.83,185.75 L397.66,186.23 L397.86,185.86 L398.62,185.04 L398.96,184.32 L399.45,184.94 L399.66,184.93 L400.72,185.59 L401.07,183.91 L401.62,184.43 L401.99,185.17 L402.32,184.79 L402.83,184.23 L403.68,182.98 L404.4,183.78 L404.94,185.07 L405.3,182.1 L405.84,184.22 L406.29,182.58 L407.22,184.14 L407.46,184.87 L407.9,184.13 L408.36,183.41 L409.27,184.99 L409.86,183.33 L410.22,183.15 L410.5,183.75 L411.49,184.96 L411.98,185.36 L412.29,182.93 L412.96,183.35 L413.38,183.87 L414.13,184.2 L414.45,185.39 L415.35,184.24 L415.3,182.97 L416.29,183.09 L416.69,184.86 L416.98,185.66 L417.35,183.65 L418.14,183.38 L418.9,184.15 L419.03,183.63 L419.86,185 L420.43,185.75 L421.12,186.8 L421.62,184.45 L422.07,184.46 L422.37,185.48 L423.37,184.63 L423.64,185.21 L424.43,185.82 L424.92,186.62 L425.33,186.79 L426.17,184.58 L426.72,186.66 L426.78,185.85 L427.64,187.35 L428.05,186.29 L428.92,187.05 L429.52,186.02 L429.91,185.22 L430.52,187.22 L431.03,186.93 L431.29,187.54 L432.26,187.81 L432.5,187.23 L432.89,187.64 L433.72,185.87 L433.76,186.19 L434.56,187.26 L435.03,184.91 L435.76,185.04 L436.3,185.41 L436.56,187.4 L436.99,185.37 L437.76,187.23 L438.49,187.13 L439.1,186.52 L439.64,185.24 L439.73,186.66 L440.29,187.31 L441.02,186.66 L441.67,186.79 L441.87,186.23 L442.71,187.9 L442.85,187.75 L443.83,186.71 L444.12,185.69 L444.61,186.66 L445.17,185.14 L445.91,186.7 L446.08,187.61 L446.7,186.62 L447.29,185.26 L447.72,186.38 L448.49,188.01 L448.59,186.57 L449.02,186.45 L449.96,187.94 L450.28,186.06 L450.63,187.02 L451.59,185.45 L452.03,185.11 L452.2,185.75 L453.02,186.05 L453.34,187 L453.72,187.35 L454.25,186.64 L454.85,185.63 L455.52,186.38 L455.94,186.3 L456.53,185.47 L456.85,186.97 L457.61,186.63 L458.24,186.88 L458.75,185.66 L459.19,187.49 L459.79,185.9 L459.95,187.83 L460.39,188.05 L461.3,185.28 L461.42,187.16 L461.95,185.13 L462.82,186.14 L463.32,185.18 L463.62,186.95 L463.91,185.38 L464.83,187.63 L465.53,185.07 L465.78,187.11 L466.3,186.85 L466.64,184.87 L467.11,184.74 L467.91,186.25 L468.44,185.05 L468.74,185.22 L469.65,187.71 L470.23,184.82 L470.23,187.54 L470.99,186.92 L471.43,185.94 L472.06,185.8 L472.64,184.45 L473.22,187.08 L473.43,185.81 L474.29,185.63 L474.48,184.84 L475.19,184.34 L475.94,186.84 L476.35,187 L476.83,185.52 L477.34,185.81 L478.11,186.75 L478.2,187.07 L479.03,186.62 L479.6,185.4 L480.18,186.89 L480.6,186.51 L481.17,185.33 L481.68,184.23 L481.98,185.48 L482.32,185.09 L483.23,185.93 L483.51,186.93 L484.31,184.96 L484.84,185.68 L485.28,185.08 L486.09,185.87 L486.43,186.23 L487.12,183.84 L487.43,186.11 L487.74,185 L488.14,184.32 L488.85,183.99 L489.3,186.54 L490.01,185.25 L490.78,185.42 L491.32,185.62 L491.73,183.8 L492.13,185.96 L492.32,186.48 L492.92,184.99 L493.45,185.05 L494.25,183.63 L494.98,184.76 L495.25,185.31 L495.69,184.29 L496.39,185.15 L496.7,185.62 L497.23,183.35 L497.73,183.42 L498.21,185.68 L498.88,186.12 L499.62,183.38 L500.29,186.22 L500.28,186.08 L501.03,184.69 L501.89,183.92 L502.15,186.12 L502.81,184.6 L503.5,185.7 L503.81,183.44 L504.36,184.51 L504.64,183.2 L505.37,183.41 L505.85,185.13 L506.39,183.81 L507.01,184.3 L507.64,184.63 L508.29,185.97 L508.65,183.67 L508.8,185.74 L509.72,184.87 L509.99,183.72 L510.7,184.64 L511.16,184.84 L511.78,183.41 L512,185.92 L512.92,185.58 L512.91,182.94 L513.57,184.09 L514.29,183.05 L514.75,182.93 L514.98,184.85 L515.77,184.69 L516.17,184.18 L516.58,183.74 L517.41,185.3 L517.52,182.99 L518.46,184.59 L518.95,183.26 L519.25,183.38 L519.99,183.72 L520.4,185.69 L520.71,184.26 L521.47,185.44 L521.78,183.66 L522.08,185.26 L522.57,182.71 L523.37,183.98 L523.94,183.37 L524.5,182.64 L524.67,184.5 L525.09,183.33 L525.98,184.56 L526.22,182.78 L526.77,184.63 L527.27,182.67 L527.98,184.1 L528.61,185.26 L529.11,183.64 L529.55,183.2 L529.76,183.48 L530.63,185.05 L530.73,183.32 L531.3,183.31 L531.82,183.37 L532.2,183.92 L533.07,183.82 L533.59,183.88 L533.71,184.48 L534.64,182.93 L534.63,183.66 L535.45,183.81 L536.21,184.05 L536.62,182.15 L536.98,184.45 L537.21,182.17 L538.11,184.76 L538.23,183.89 L538.77,184.23 L539.58,182.61 L539.83,184.25 L540.53,184.22 L540.97,182.83 L541.83,183.87 L542.07,183.42 L542.72,183.94 L543.35,182.96 L543.82,183.75 L544.35,184.17 L544.86,184.41 L545.45,183.59 L545.7,183.79 L546.39,182.84 L546.68,181.93 L547.39,184.6 L547.7,181.94 L548.11,182.73 L548.69,184.45 L549.07,182.3 L549.63,183.36 L550.55,181.83 L550.64,182.69 L551.48,184.1 L551.67,181.51 L552.28,181.83 L552.84,183.4 L553.58,181.79 L553.85,181.94 L554.37,183.43 L554.97,182.73 L555.8,182.48 L555.99,183.76 L556.9,181.98 L557.21,183.91 L557.69,181.53 L557.95,183.82 L558.93,181.99 L559.28,182.38 L559.65,183.86 L560.41,181.42 L560.54,182.14 L561.27,183.15 L561.99,182.51 L562.18,181.04 L562.79,181.34 L563.64,182.13 L564.02,183.62 L564.31,182.12 L564.76,182.85 L565.19,182.98 L566.21,182.95 L566.27,181.15 L567.17,180.57 L567.53,181.73 L568.32,182.08 L568.77,181.15 L569.24,181.48 L569.82,180.41 L570.27,180.76 L570.61,181.75 L570.88,182.7 L571.48,181 L571.85,180.96 L572.59,182.24 L573.03,182.12 L573.39,181.16 L574.13,182.96 L574.88,181.94 L574.92,181.03 L575.87,180.56 L576.32,181.24 L576.52,182.92 L577.52,180.38 L577.94,180.63 L578.33,181.4 L578.82,180.73 L579.4,181.76 L579.85,180.24 L580.64,180.64 L581.27,181.37 L581.64,180.61 L582.2,179.83 L582.3,179.82 L583.12,181.76 L583.32,180.77 L584.22,181.36 L584.27,180.17 L584.82,179.83 L585.47,179.64 L586.28,180.76 L586.53,181.45 L587.21,181.99 L587.51,180.41 L588.05,179.39 L588.56,181.56 L589.43,181.84 L589.76,181.24 L589.9,180.34 L590.62,181.35 L591,180.46 L591.77,181.76 L592.48,181.18 L592.6,181.67 L593.58,180.95 L593.76,180.79 L594.14,181.46 L595.16,180.82 L595.51,181.83 L595.72,182.17 L596.49,179.77 L596.67,179.91 L597.48,181.35 L597.85,182.08 L598.38,180.58 L598.75,182.2 L599.27,181.97 L600.03,180.86 L600.55,179.9 L601.26,182.22 L601.72,180.96 L601.81,181.67 L602.42,181.89 L602.9,180.84 L603.76,179.59 L604.1,179.24 L604.3,179.56 L605.38,181.98 L605.7,179.95 L606.21,181.32 L606.55,180.84 L607.32,178.99 L607.47,180.43 L607.95,180.16 L608.72,179.47 L609.21,179.75 L609.75,179.96 L610.31,179.01 L610.84,179.34 L611.53,180.79 L611.77,180.18 L612.4,181.06 L613.01,181.25 L613.38,182.01 L614.13,181.56 L614.41,180.2 L615.04,181.7" fill="none" stroke="#e8c0e5" stroke-width="1.6" stroke-linejoin="round"/>
<path d="M353.93,209.98 L354.66,208.16 L354.87,208.14 L355.87,208.36 L356.97,207.04 L357.55,206.55 L357.97,205.37 L358.65,205.85 L359.3,204.96 L360.02,203.97 L360.89,202.62 L361.89,201.04 L362.13,202.54 L363.1,199.91 L364.02,201.4 L364.13,199.58 L364.78,198.75 L365.95,197.67 L366.87,196.67 L367.42,197.83 L368.43,196.2 L369.4,195.7 L370.12,193.99 L371.16,195.63 L372.14,194.29 L372.57,192.98 L373.58,193.15 L374,191.53 L374.92,191.63 L375.9,191.06 L376.15,191.28 L377.07,190.04 L377.61,189.3 L378.35,189.63 L378.82,188.61 L380.14,188.02 L381.35,186.12 L382.22,186.56 L382.73,185.7 L383.52,184.87 L384.38,186.08 L385.77,185.29 L386.99,184.48 L387.85,182.37 L388.82,183.77 L389.17,181.91 L390.42,181.77 L390.97,180.7 L391.72,181.89 L393.26,182.55 L393.94,179.97 L394.88,181.58 L396.24,181.01 L396.98,180.55 L398.24,180.6 L399.24,181.22 L400.76,179.18 L401.53,180.77 L402.65,180.82 L403.9,180.15 L405.12,178.91 L405.98,178.97 L407.32,179.98 L408.12,180.42 L409.42,178.86 L410.56,180.65 L411.77,179.82 L413.09,180.7 L414.1,179.45 L415.05,180.72 L416.22,180.07 L416.93,179.72 L418.14,180.35 L418.59,180.95 L420,181.41 L420.79,182.01 L421.37,182.05 L422.02,180.77 L422.75,181.66 L423.82,182.95 L424.31,183.18 L424.79,183.33 L425.87,183.36 L426.37,183.68 L427.19,184.64 L427.88,183.46 L428.78,185.15 L429.84,185.27 L430.74,184.78 L431,185.26 L432.05,184.71 L433.01,185.25 L433.58,185.37 L434.87,184.73 L435.39,185.5 L436.21,185.95 L437.13,187.21 L438.3,186.72 L439.09,186.19 L440.43,187.1 L441.28,186.17 L442.75,187.02 L443.49,186.28 L444.92,185.88 L445.97,186.46 L447.22,186.13 L448.12,185.57 L449.14,185.44 L450,185.47 L451.36,184.8 L452.26,185.65 L453.14,184.3 L454.73,184.71 L455.85,185.36 L456.56,185.92 L457.71,184.54 L458.09,185.25 L459.36,185.12 L460.17,184.59 L460.89,184.19 L461.59,184.42 L462.4,184.42 L463.47,183.83 L463.93,183.98 L465.21,184.58 L465.55,185.29 L466.92,185.21 L467.49,184.96 L468.35,183.48 L469.56,185.1 L470.05,185.17 L470.83,183.75 L471.7,183.38 L472.66,184.64 L473.62,183.34 L474.43,183.59 L475.71,184.25 L476.13,184.4 L477.27,183.79 L478.14,184.23 L479.13,183.84 L479.86,183.71 L480.68,183.49 L481.38,183.75 L482.38,183.14 L483.33,183.62 L484.12,184.06 L485,184 L485.51,183.3 L486.45,184.09 L487.41,182.56 L487.77,182.47 L488.61,182.31 L489.39,182.74 L490.28,183.75 L491.4,184.38 L492.44,183.82 L493.26,182.06 L493.7,184.18 L494.72,182.42 L495.77,182.9 L496.52,182.6 L497.21,182.02 L498.31,184.06 L499.42,183.57 L500.26,182.57 L500.71,183.89 L501.73,183.25 L502.21,182.16 L503.32,183.34 L504.36,183.38 L504.9,182.45 L506.05,183.88 L506.66,181.94 L507.57,182.74 L508.25,181.98 L509.1,182.88 L509.78,182.68 L511.1,183.15 L511.52,182.35 L512.26,183.09 L513.41,181.71 L514.2,182.71 L515.05,182.17 L515.72,182.09 L516.97,182.01 L517.5,182.31 L518.14,182.14 L518.99,181.94 L519.92,181.98 L521.1,181.83 L521.57,182.68 L522.44,182.32 L523.42,181.23 L524.27,181.28 L524.85,182.95 L526.13,182.61 L526.47,182.02 L527.37,182.96 L528.17,181.38 L529.25,182.41 L530.05,182 L531.11,181.92 L531.93,181.73 L532.48,181.62 L533.46,182.53 L534.01,181.95 L535.14,181.85 L535.93,182.09 L536.8,181.42 L537.38,180.58 L538.57,182.38 L539.1,182.76 L540.24,180.76 L541.04,181.35 L541.57,180.91 L542.47,180.35 L543.09,180.45 L544.09,180.49 L544.82,182.05 L545.81,181.17 L546.79,182.18 L547.36,180.42 L548.64,181.98 L549.53,180.99 L550.04,180.11 L551.22,181.42 L551.85,181.41 L552.53,180.72 L553.76,179.63 L554.44,179.74 L555.42,181.23 L556.15,180.18 L556.63,180.24 L557.68,179.94 L558.36,181.11 L559.48,180.17 L560.52,180.89 L561.18,179.97 L562.2,179.48 L563.07,178.56 L563.85,179.69 L564.59,180.72 L565.19,179.24 L566.38,179.98 L567.05,179.97 L567.97,180.12 L568.77,178.83 L569.38,178.08 L570.1,177.91 L571.44,178.07 L572.04,177.98 L573.08,178.86 L573.43,179.49 L574.75,179.78 L575.28,178.33 L576.45,177.97 L577.31,178.9 L578.33,179.12 L579.24,177.76 L580.15,178.04 L580.62,177 L581.71,177.75 L582.2,178.01 L583.21,177.56 L584.12,178.02 L584.91,179.04 L585.95,177.33 L586.75,177.32 L587.64,176.65 L588.12,178.7 L589.18,178.11 L589.75,176.65 L591.06,176.47 L591.44,177.29 L592.67,177.84 L593.63,178.03 L594.13,178.3 L594.89,176.19 L596.11,178.13 L596.76,177.12 L597.32,176.45 L598.07,176.1 L599.15,177.98 L600.26,177.02 L600.98,176.86 L601.91,177.39 L602.91,177.68 L603.6,177.02 L604.17,176.69 L605.21,175.88 L605.93,176.45 L606.77,176.92 L607.72,177.75 L608.79,176.57 L609.5,176.23 L610.21,177.56 L611.5,176.76 L612.28,175.5 L613.15,175.5 L613.96,176.46 L614.8,175.56" fill="none" stroke="#c89c38" stroke-width="0.7" stroke-linejoin="round"/>
<path d="M358.77,203.8h0.01 M359.66,202.95h0.01 M361.19,201.95h0.01 M361.94,202.53h0.01 M363.12,202.47h0.01 M364.04,199.76h0.01 M365.09,198.18h0.01 M366.2,198.02h0.01 M366.66,198.41h0.01 M367.34,197.65h0.01 M368.77,195.81h0.01 M369.7,195.86h0.01 M370.41,195h0.01 M370.94,193.67h0.01 M371.46,192.83h0.01 M373.85,192.85h0.01 M374.97,193.04h0.01 M376.52,192.23h0.01 M377.66,188.45h0.01 M379.4,187.27h0.01 M380.57,187.89h0.01 M382.02,188.25h0.01 M383.13,184.13h0.01 M384.01,184.89h0.01 M386.03,182.69h0.01 M387.13,181.97h0.01 M388.51,181h0.01 M390.12,182.24h0.01 M391.76,182.63h0.01 M393.58,180.07h0.01 M394.79,180.55h0.01 M396.25,180.15h0.01 M397.3,182.01h0.01 M397.95,181.61h0.01 M399.46,181.04h0.01 M400.6,179.66h0.01 M401.33,178.59h0.01 M402.53,178.6h0.01 M403.61,178.63h0.01 M405.05,180.57h0.01 M406.34,180.8h0.01 M406.9,180.67h0.01 M408.09,177.96h0.01 M409.3,179.79h0.01 M410.24,178.48h0.01 M411.65,180.69h0.01 M412.76,179.28h0.01 M413.84,178.19h0.01 M415.3,181.29h0.01 M416.22,179.51h0.01 M417.96,179.52h0.01 M419.88,181.25h0.01 M421.2,182.7h0.01 M423.01,181.1h0.01 M424.53,183.52h0.01 M425.55,182.88h0.01 M427.5,182.69h0.01 M428.85,186.35h0.01 M430.29,185.12h0.01 M432.41,186.82h0.01 M433.97,185.9h0.01 M435.81,185.15h0.01 M437.61,185.87h0.01 M439.42,186.68h0.01 M440.19,186.91h0.01 M441.52,188.02h0.01 M442.68,186.01h0.01 M443.55,187.58h0.01 M444.63,186.73h0.01 M446.02,187.74h0.01 M446.69,186.59h0.01 M447.75,186.43h0.01 M450.13,186.67h0.01 M451.77,184.71h0.01 M452.71,184.99h0.01 M453.21,184h0.01 M454.57,183.43h0.01 M455.43,185.74h0.01 M456.83,183.83h0.01 M457.98,184.75h0.01 M458.64,185.77h0.01 M460.19,184.68h0.01 M461.26,185.16h0.01 M462.57,185.62h0.01 M463.91,183.52h0.01 M464.55,183.11h0.01 M465.81,184.77h0.01 M467.36,184.12h0.01 M467.92,184.58h0.01 M469.41,184.63h0.01 M469.92,185.19h0.01 M471.5,185.27h0.01 M472.03,182.98h0.01 M473.08,182.78h0.01 M473.82,183.87h0.01 M475.4,184.74h0.01 M476.06,185.6h0.01 M476.87,183.02h0.01 M477.94,184.13h0.01 M479.5,183.4h0.01 M480.51,185.34h0.01 M481.29,185.13h0.01 M482.68,183.59h0.01 M483.17,182.09h0.01 M484.29,183.43h0.01 M485.17,182.91h0.01 M486.61,182.88h0.01 M487.87,183.68h0.01 M488.77,183.86h0.01 M489.87,183.02h0.01 M490.6,183.6h0.01 M491.56,181.57h0.01 M492.86,182.22h0.01 M494.19,181.92h0.01 M494.94,183.81h0.01 M495.93,184.17h0.01 M496.69,181.84h0.01 M497.82,182.5h0.01 M499.05,181.86h0.01 M500.05,183.63h0.01 M501.23,184h0.01 M501.89,183.46h0.01 M503.51,183.96h0.01 M504.16,181.26h0.01 M505.76,183.24h0.01 M506.4,184.01h0.01 M507.95,183.06h0.01 M509.1,183.02h0.01 M509.87,180.98h0.01 M510.99,183.01h0.01 M511.97,181.38h0.01 M513.02,182.49h0.01 M514.82,183.3h0.01 M515.17,182h0.01 M516.81,180.97h0.01 M518.01,181.44h0.01 M518.84,183.42h0.01 M520.3,180.83h0.01 M521.36,183.67h0.01 M522.49,183.27h0.01 M523.23,181.58h0.01 M524.08,181.85h0.01 M525.4,180.97h0.01 M527.02,183.54h0.01 M528.03,181.39h0.01 M528.59,181.83h0.01 M529.66,181.52h0.01 M531.2,181.35h0.01 M532.09,181.35h0.01 M533.6,180.26h0.01 M534.7,182.27h0.01 M535.59,182.52h0.01 M536.28,183.07h0.01 M537.61,181.35h0.01 M538.9,183.1h0.01 M539.78,181.69h0.01 M541.51,180.49h0.01 M542.36,180.24h0.01 M543.42,181.13h0.01 M544.54,179.6h0.01 M545.37,182.66h0.01 M546.47,180.42h0.01 M548.25,180.16h0.01 M549.05,180.7h0.01 M549.72,181.37h0.01 M551.26,182.33h0.01 M552.77,179.13h0.01 M553.59,180h0.01 M554.36,181.97h0.01 M555.46,180.37h0.01 M556.7,180.52h0.01 M557.81,181.43h0.01 M559.13,178.97h0.01 M560.55,178.63h0.01 M561.62,178.93h0.01 M562.83,178.86h0.01 M563.8,180.25h0.01 M564.8,180.85h0.01 M565.95,178.46h0.01 M567.06,179.98h0.01 M568.07,179.3h0.01 M568.89,178.21h0.01 M570.54,178.41h0.01 M571.18,179.97h0.01 M572.15,177.15h0.01 M573.27,177.59h0.01 M574.33,177.88h0.01 M575.56,180.06h0.01 M576.62,178.73h0.01 M577.71,179.18h0.01 M578.63,177.73h0.01 M579.71,177.5h0.01 M580.9,177.96h0.01 M582.53,176.35h0.01 M583.05,178.37h0.01 M584.62,177.47h0.01 M585.33,177.18h0.01 M586.43,177.9h0.01 M587.89,175.97h0.01 M588.54,176.63h0.01 M590.03,178.5h0.01 M590.72,175.69h0.01 M591.89,177.19h0.01 M593.49,179.06h0.01 M594.34,177.02h0.01 M595.86,178.2h0.01 M596.99,176.32h0.01 M597.95,178.22h0.01 M598.71,176.13h0.01 M600.34,175.98h0.01 M600.88,175.5h0.01 M602.34,177.32h0.01 M602.85,176.62h0.01 M604.03,175.03h0.01 M605.29,175.2h0.01 M606.02,177.52h0.01 M606.96,177.57h0.01 M608.49,177.29h0.01 M609.14,178.05h0.01 M610.08,178.24h0.01 M611.33,176.53h0.01 M612.8,174.92h0.01 M613.58,177.26h0.01 M614.65,177.73h0.01" stroke="#c2922c" stroke-width="1.6" stroke-linecap="round" fill="none"/>
</g>
<path d="M353.95,209.6 v-2.6 M353.95,7 v2.6 M419.14,209.6 v-2.6 M419.14,7 v2.6 M484.33,209.6 v-2.6 M484.33,7 v2.6 M549.51,209.6 v-2.6 M549.51,7 v2.6 M614.7,209.6 v-2.6 M614.7,7 v2.6 M353.95,209.6 h2.6 M614.7,209.6 h-2.6 M353.95,180.66 h2.6 M614.7,180.66 h-2.6 M353.95,151.71 h2.6 M614.7,151.71 h-2.6 M353.95,122.77 h2.6 M614.7,122.77 h-2.6 M353.95,93.83 h2.6 M614.7,93.83 h-2.6 M353.95,64.89 h2.6 M614.7,64.89 h-2.6 M353.95,35.94 h2.6 M614.7,35.94 h-2.6 M353.95,7 h2.6 M614.7,7 h-2.6" stroke="#262626" stroke-width="1" fill="none"/>
<rect x="353.95" y="7" width="260.75" height="202.6" fill="none" stroke="#262626" stroke-width="1"/>
<text x="353.35" y="224.1" text-anchor="middle" font-size="10.5" fill="#262626">0</text>
<text x="418.54" y="224.1" text-anchor="middle" font-size="10.5" fill="#262626">0.5</text>
<text x="483.73" y="224.1" text-anchor="middle" font-size="10.5" fill="#262626">1</text>
<text x="548.91" y="224.1" text-anchor="middle" font-size="10.5" fill="#262626">1.5</text>
<text x="614.1" y="224.1" text-anchor="middle" font-size="10.5" fill="#262626">2</text>
<text x="349.3" y="214" text-anchor="end" font-size="10.5" fill="#262626">0</text>
<text x="349.3" y="185.06" text-anchor="end" font-size="10.5" fill="#262626">0.5</text>
<text x="349.3" y="156.11" text-anchor="end" font-size="10.5" fill="#262626">1</text>
<text x="349.3" y="127.17" text-anchor="end" font-size="10.5" fill="#262626">1.5</text>
<text x="349.3" y="98.23" text-anchor="end" font-size="10.5" fill="#262626">2</text>
<text x="349.3" y="69.29" text-anchor="end" font-size="10.5" fill="#262626">2.5</text>
<text x="349.3" y="40.34" text-anchor="end" font-size="10.5" fill="#262626">3</text>
<text x="349.3" y="11.4" text-anchor="end" font-size="10.5" fill="#262626">3.5</text>
<text x="483.6" y="239" text-anchor="middle" font-size="12" fill="#262626">Displacement [mm]</text>
<text transform="translate(329.9,107.6) rotate(-90)" text-anchor="middle" font-size="12" fill="#262626">Force [N]</text>
<text x="528.0" y="108.6" font-size="10.9" fill="#1f1f1f">Adhesive</text>
<text x="528.0" y="121.2" font-size="10.9" fill="#1f1f1f">strength</text>
<path d="M559.3,97.4 C566,82 571,65 572.1,46.5" fill="none" stroke="#1f1f1f" stroke-width="0.9"/>
<path d="M572.2,42.6 L574.4,48.72 L571.95,47.59 L569.4,48.47Z" fill="#1f1f1f"/>
<rect x="357.4" y="12" width="112.2" height="59.6" fill="#fff" stroke="#262626" stroke-width="0.8"/>
<rect x="360" y="14.7" width="17.8" height="8.8" fill="#c6d2dc" stroke="#2f6088" stroke-width="1"/>
<text x="380" y="22.4" font-size="9.7" fill="#1f1f1f">Bonded - Sim.</text>
<rect x="360" y="26.38" width="17.8" height="8.8" fill="#fdeaea" stroke="#f6b4b4" stroke-width="1"/>
<text x="380" y="34.08" font-size="9.7" fill="#1f1f1f">Debonded - Sim.</text>
<path d="M359.5,42.36 H377.8" stroke="#24557d" stroke-width="1"/>
<text x="380" y="45.76" font-size="9.7" fill="#1f1f1f">Bonded - 5A</text>
<path d="M359.5,54.04 H377.8" stroke="#d8b070" stroke-width="2"/>
<text x="380" y="57.44" font-size="9.7" fill="#1f1f1f">Debonded - 5A</text>
<path d="M359.5,65.72 H377.8" stroke="#f0c8ee" stroke-width="1.2"/>
<text x="380" y="69.12" font-size="9.7" fill="#1f1f1f">Debonded - Manual</text>
<text x="316.6" y="8.8" font-size="10.5" font-weight="bold" fill="#1f1f1f">(b)</text>
</svg>
</body></html>
